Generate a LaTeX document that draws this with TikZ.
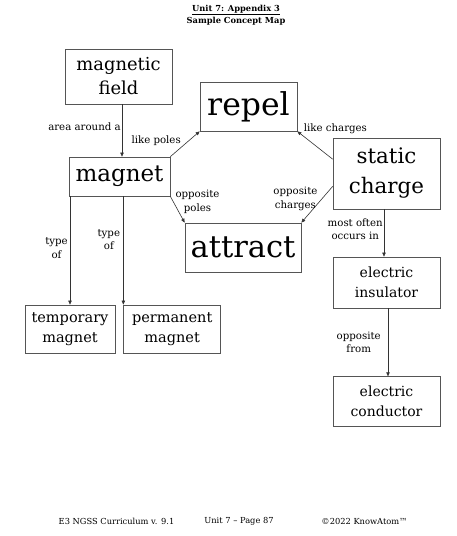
\documentclass[tikz,border=0pt]{standalone}
\usepackage{fontspec}
\setmainfont{DejaVu Serif}
\usetikzlibrary{arrows.meta,positioning,calc}
\definecolor{boxline}{HTML}{555555}
\definecolor{linkline}{HTML}{333333}
\tikzset{
  concept/.style={draw=boxline, line width=.7pt, align=center, inner sep=0pt, fill=white},
  link/.style={-{Triangle[length=4pt,width=3.4pt]}, line width=.6pt, draw=linkline},
  lbl/.style={font=\fontsize{10.2}{13.8}\selectfont, align=center, inner sep=1pt},
  foot/.style={font=\fontsize{8.3}{10}\selectfont, inner sep=0pt}
}

\begin{document}
\begin{tikzpicture}[x=1pt, y=-1pt]
  \useasboundingbox[fill=white] (0,0) rectangle (457,536);

  % heading
  \node[font=\fontsize{8.3}{10}\selectfont\bfseries] (head) at (236,10) {\underline{Unit 7: Appendix 3}};
  \node[font=\fontsize{8.3}{10}\selectfont\bfseries] (sub) at (236,21) {Sample Concept Map};

  % magnet side
  \node[concept, minimum width=107pt, minimum height=55pt, font=\fontsize{17.9}{24}\selectfont] (field) at (118.5,76.5) {magnetic\\field};
  \node[concept, minimum width=101pt, minimum height=39pt, font=\fontsize{23}{30}\selectfont] (magnet) at (119.5,176.5) {magnet};
  \node[concept, minimum width=90pt, minimum height=48pt, font=\fontsize{14.5}{20}\selectfont] (temp) at (70,329) {temporary\\magnet};
  \node[concept, minimum width=97pt, minimum height=48pt, font=\fontsize{14.5}{20}\selectfont, right=8pt of temp] (perm) {permanent\\magnet};

  % middle
  \node[concept, minimum width=97pt, minimum height=49pt, font=\fontsize{31.5}{38}\selectfont] (repel) at (248.5,106.5) {repel};
  \node[concept, minimum width=116pt, minimum height=49pt, font=\fontsize{30.5}{38}\selectfont] (attract) at (243,247.5) {attract};

  % charge side
  \node[concept, minimum width=107pt, minimum height=71pt, font=\fontsize{21.4}{30}\selectfont] (static) at (386.5,173.5) {static\\charge};
  \node[concept, minimum width=107pt, minimum height=51pt, font=\fontsize{14}{20}\selectfont] (insul) at (386.5,282.5) {electric\\insulator};
  \node[concept, minimum width=107pt, minimum height=50pt, font=\fontsize{14}{20}\selectfont, below=68pt of insul] (cond) {electric\\conductor};

  % footer
  \node[foot] (f1) at (116.5,521) {E3 NGSS Curriculum v. 9.1};
  \node[foot] (f2) at (239,521) {Unit 7 – Page 87};
  \node[foot] (f3) at (364.5,521) {©2022 KnowAtom™};

  \draw[link] ([xshift=3.5pt]field.south) -- node[lbl, left, pos=.43] {area around a} ([xshift=2.5pt]magnet.north);
  \draw[link] (magnet.north east) -- node[lbl, above left, pos=.4] {like poles} (repel.south west);
  \draw[link] (magnet.south east) -- node[lbl, right=1pt, pos=.2] {opposite\\poles} (attract.north west);
  \draw[link] ($(static.north west)!.3!(static.south west)$) -- node[lbl, above right, pos=.85] {like charges} (repel.south east);
  \draw[link] ($(static.north west)!.68!(static.south west)$) -- node[lbl, left=3pt, pos=.35] {opposite\\charges} (attract.north east);
  \draw[link] (temp.north |- magnet.south) -- node[lbl, left=1pt, pos=.48] {type\\of} (temp.north);
  \draw[link] (perm.north west |- magnet.south) -- node[lbl, left=2pt, pos=.4] {type\\of} (perm.north west);
  \draw[link] ([xshift=-2.5pt]static.south) -- node[lbl, left=0pt, pos=.42] {most often\\occurs in} ([xshift=-2.5pt]insul.north);
  \draw[link] ([xshift=1.5pt]insul.south) -- node[lbl, left=6pt, pos=.5] {opposite\\from} ([xshift=1.5pt]cond.north);
\end{tikzpicture}
\end{document}
